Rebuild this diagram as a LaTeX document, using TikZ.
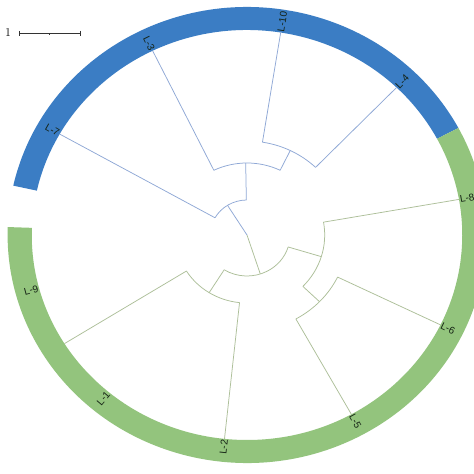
\documentclass[tikz,border=0pt]{standalone}
\usepackage{fontspec}
\newfontfamily\labfont{Liberation Sans}
\definecolor{ringblue}{HTML}{3B7DC4}
\definecolor{ringgreen}{HTML}{93C47D}
\definecolor{blueline}{HTML}{8FA8D6}
\definecolor{greenline}{HTML}{ADBF99}
\definecolor{labtext}{HTML}{142214}
\definecolor{barcol}{HTML}{333333}
\tikzset{
  bl/.style={draw=blueline, line width=0.75pt},
  gl/.style={draw=greenline, line width=0.75pt},
  labbase/.style={font=\labfont\fontsize{10}{10}\selectfont, text=labtext, inner sep=0.8pt},
  labR/.style={labbase, anchor=west},
  labL/.style={labbase, anchor=east},
  scalebar/.style={draw=barcol, line width=0.8pt},
}
\begin{document}
\begin{tikzpicture}[x=1pt,y=1pt]
\useasboundingbox (-247,-239) rectangle (227,235);
\clip (-247,-239) rectangle (227,235);
\fill[white] (-247,-239) rectangle (227,235);
% scale bar
\node[font=\fontsize{12}{12}\selectfont, inner sep=0pt] (one) at (-239,202) {1};
\coordinate (sbL) at (-227.5,201.5);
\coordinate (sbR) at (-167,201.5);
\coordinate (sbM) at (-197.7,201.5);
\coordinate (sbLt) at (-227.5,204);
\coordinate (sbLb) at (-227.5,199);
\coordinate (sbRt) at (-167,204);
\coordinate (sbRb) at (-167,199);
\coordinate (sbMb) at (-197.7,199.5);
\draw[scalebar] (sbL) -- (sbR);
\draw[scalebar] (sbLt) -- (sbLb);
\draw[scalebar] (sbRt) -- (sbRb);
\draw[scalebar] (sbM) -- (sbMb);
\begin{scope}[xscale=1.05]
% ring
\fill[ringblue] (28:205) arc[start angle=28, end angle=167.5, radius=205]
  -- (167.5:228) arc[start angle=167.5, end angle=28, radius=228] -- cycle;
\fill[ringgreen] (178:205) arc[start angle=178, end angle=388, radius=205]
  -- (388:228) arc[start angle=388, end angle=178, radius=228] -- cycle;
% root and internal coordinates
\coordinate (c) at (0,0);
% blue subtree
\coordinate (b1) at (122:35);
\coordinate (b1a) at (150.5:35);
\coordinate (b1b) at (91:35);
\coordinate (b2) at (91:72);
\coordinate (b2a) at (116:72);
\coordinate (b2b) at (64:72);
\coordinate (b3) at (64:94);
\coordinate (b3a) at (81:94);
\coordinate (b3b) at (46:94);
\coordinate (l7) at (150.5:205);
\coordinate (l3) at (116:205);
\coordinate (l10) at (81:205);
\coordinate (l4) at (46:205);
\draw[bl] (c) -- (b1);
\draw[bl] (b1a) arc[start angle=150.5, end angle=91, radius=35];
\draw[bl] (b1a) -- (l7);
\draw[bl] (b1b) -- (b2);
\draw[bl] (b2a) arc[start angle=116, end angle=64, radius=72];
\draw[bl] (b2a) -- (l3);
\draw[bl] (b2b) -- (b3);
\draw[bl] (b3a) arc[start angle=81, end angle=46, radius=94];
\draw[bl] (b3a) -- (l10);
\draw[bl] (b3b) -- (l4);
% green subtree
\coordinate (g1) at (-72:41);
\coordinate (g1a) at (-122:41);
\coordinate (g1b) at (-17:41);
\coordinate (g2) at (-122:68);
\coordinate (g2a) at (-148:68);
\coordinate (g2b) at (-96:68);
\coordinate (g3) at (-17:74);
\coordinate (g3a) at (-44:74);
\coordinate (g3b) at (10:74);
\coordinate (g4) at (-44:96);
\coordinate (g4a) at (-61:96);
\coordinate (g4b) at (-26:96);
\coordinate (l8) at (10:205);
\coordinate (l6) at (-26:205);
\coordinate (l5) at (-61:205);
\coordinate (l2) at (-96:205);
\coordinate (l9) at (-148:205);
\coordinate (t9) at (195:205);
\coordinate (t1) at (230:205);
\draw[gl] (c) -- (g1);
\draw[gl] (g1a) arc[start angle=-122, end angle=-17, radius=41];
\draw[gl] (g1a) -- (g2);
\draw[gl] (g1b) -- (g3);
\draw[gl] (g2a) arc[start angle=-148, end angle=-96, radius=68];
\draw[gl] (g2a) -- (l9);
\draw[gl] (g2b) -- (l2);
\draw[gl] (g3a) arc[start angle=-44, end angle=10, radius=74];
\draw[gl] (g3b) -- (l8);
\draw[gl] (g3a) -- (g4);
\draw[gl] (g4a) arc[start angle=-61, end angle=-26, radius=96];
\draw[gl] (g4a) -- (l5);
\draw[gl] (g4b) -- (l6);
% labels
\node[labL, rotate=-29.5] (n7) at (l7) {L-7};
\node[labL, rotate=-64] (n3) at (l3) {L-3};
\node[labR, rotate=81] (n10) at (l10) {L-10};
\node[labR, rotate=46] (n4) at (l4) {L-4};
\node[labR, rotate=10] (n8) at (l8) {L-8};
\node[labR, rotate=-26] (n6) at (l6) {L-6};
\node[labR, rotate=-61] (n5) at (l5) {L-5};
\node[labL, rotate=84] (n2) at (l2) {L-2};
\node[labL, rotate=15] (n9) at (t9) {L-9};
\node[labL, rotate=50] (n1) at (t1) {L-1};
\end{scope}
\end{tikzpicture}
\end{document}
